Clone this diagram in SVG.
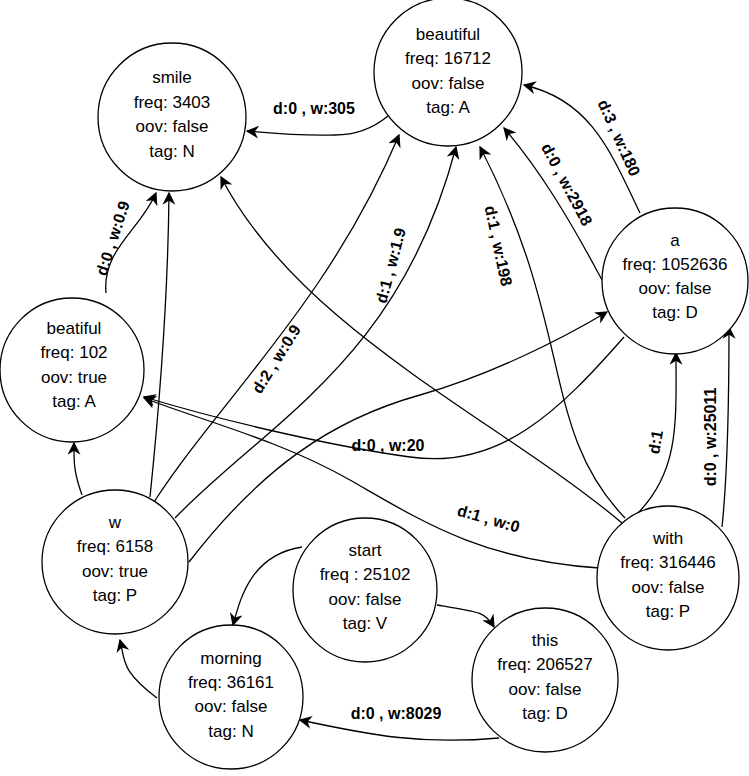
<svg xmlns="http://www.w3.org/2000/svg" width="749" height="776" viewBox="0 0 749 776">
<style>
.n{fill:#fff;stroke:#000;stroke-width:1.3}
.t{font-family:"Liberation Sans",Arial,sans-serif;font-size:17px;text-anchor:middle}
.e{fill:none;stroke:#000;stroke-width:1.3;marker-end:url(#ah)}
.l{font-family:"Liberation Sans",Arial,sans-serif;font-size:16px;font-weight:bold;text-anchor:middle}
</style>
<defs><marker id="ah" viewBox="0 0 10 10" refX="9" refY="5" markerWidth="13" markerHeight="13" markerUnits="userSpaceOnUse" orient="auto"><path d="M0,0 L10,5 L0,10 L3,5 z"/></marker></defs>
<g id="edges">
<path class="e" d="M388,116 Q365,135 335,135 Q300,136 247,131"/>
<path class="e" d="M106,293 C102,250 140,230 156,193"/>
<path class="e" d="M150,497 C160,400 168,300 169,193"/>
<path class="e" d="M622,523 C500,420 300,330 221,177"/>
<path class="e" d="M154,502 C220,400 330,300 399,135"/>
<path class="e" d="M175,518 C270,420 400,360 456,147"/>
<path class="e" d="M625,518 C540,430 575,330 480,147"/>
<path class="e" d="M602,280 C570,220 540,170 504,128"/>
<path class="e" d="M640,213 C610,150 590,100 524,85"/>
<path class="e" d="M189,562 C260,470 330,420 420,395 C490,375 560,340 607,312"/>
<path class="e" d="M624,337 C560,410 500,470 410,457 C330,446 220,420 144,397"/>
<path class="e" d="M599,568 C480,560 420,520 350,480 C280,440 200,420 144,398"/>
<path class="e" d="M638,513 C680,470 676,420 676,353"/>
<path class="e" d="M722,527 C728,470 729,400 729,327"/>
<path class="e" d="M82,495 C73,470 74,460 74,443"/>
<path class="e" d="M302,547 C250,555 240,600 233,625"/>
<path class="e" d="M437,605 C480,612 485,612 494,627"/>
<path class="e" d="M499,738 C420,745 370,735 300,720"/>
<path class="e" d="M157,698 C120,670 125,660 120,640"/>
</g>
<g id="labels">
<text class="l" x="314" y="114">d:0 , w:305</text>
<text class="l" transform="translate(118,240) rotate(-72)">d:0 , w:0.9</text>
<text class="l" transform="translate(281,362) rotate(-58)">d:2 , w:0.9</text>
<text class="l" transform="translate(396,267) rotate(-75)">d:1 , w:1.9</text>
<text class="l" transform="translate(493,247) rotate(78)">d:1 , w:198</text>
<text class="l" transform="translate(562,187) rotate(62)">d:0 , w:2918</text>
<text class="l" transform="translate(614,140) rotate(66)">d:3 , w:180</text>
<text class="l" x="388" y="451">d:0 , w:20</text>
<text class="l" transform="translate(487,524) rotate(16)">d:1 , w:0</text>
<text class="l" transform="translate(661,443) rotate(-80)">d:1</text>
<text class="l" transform="translate(716,437) rotate(-90)">d:0 , w:25011</text>
<text class="l" x="396" y="719">d:0 , w:8029</text>
</g>
<g id="smile"><ellipse class="n" cx="172" cy="117" rx="74" ry="74"/><text class="t" x="172" y="83">smile</text><text class="t" x="172" y="108">freq: 3403</text><text class="t" x="172" y="132">oov: false</text><text class="t" x="172" y="157">tag: N</text></g>
<g id="beautiful"><ellipse class="n" cx="448" cy="72" rx="74" ry="74"/><text class="t" x="448" y="40">beautiful</text><text class="t" x="448" y="64">freq: 16712</text><text class="t" x="448" y="89">oov: false</text><text class="t" x="448" y="113">tag: A</text></g>
<g id="a"><ellipse class="n" cx="675" cy="281" rx="73" ry="73"/><text class="t" x="675" y="246">a</text><text class="t" x="675" y="270">freq: 1052636</text><text class="t" x="675" y="294">oov: false</text><text class="t" x="675" y="318">tag: D</text></g>
<g id="beatiful"><ellipse class="n" cx="72" cy="370" rx="72" ry="72"/><text class="t" x="74" y="334">beatiful</text><text class="t" x="74" y="358">freq: 102</text><text class="t" x="74" y="383">oov: true</text><text class="t" x="74" y="407">tag: A</text></g>
<g id="w"><ellipse class="n" cx="115" cy="562" rx="73" ry="72"/><text class="t" x="115" y="528">w</text><text class="t" x="115" y="552">freq: 6158</text><text class="t" x="115" y="577">oov: true</text><text class="t" x="115" y="601">tag: P</text></g>
<g id="start"><ellipse class="n" cx="365" cy="590" rx="72" ry="72"/><text class="t" x="365" y="556">start</text><text class="t" x="365" y="580">freq : 25102</text><text class="t" x="365" y="605">oov: false</text><text class="t" x="365" y="629">tag: V</text></g>
<g id="this"><ellipse class="n" cx="545" cy="680" rx="73" ry="72"/><text class="t" x="545" y="646">this</text><text class="t" x="545" y="670">freq: 206527</text><text class="t" x="545" y="695">oov: false</text><text class="t" x="545" y="719">tag: D</text></g>
<g id="morning"><ellipse class="n" cx="231" cy="697" rx="72" ry="72"/><text class="t" x="231" y="664">morning</text><text class="t" x="231" y="688">freq: 36161</text><text class="t" x="231" y="712">oov: false</text><text class="t" x="231" y="737">tag: N</text></g>
<g id="with"><ellipse class="n" cx="668" cy="578" rx="71" ry="72"/><text class="t" x="668" y="544">with</text><text class="t" x="668" y="568">freq: 316446</text><text class="t" x="668" y="593">oov: false</text><text class="t" x="668" y="617">tag: P</text></g>
</svg>
